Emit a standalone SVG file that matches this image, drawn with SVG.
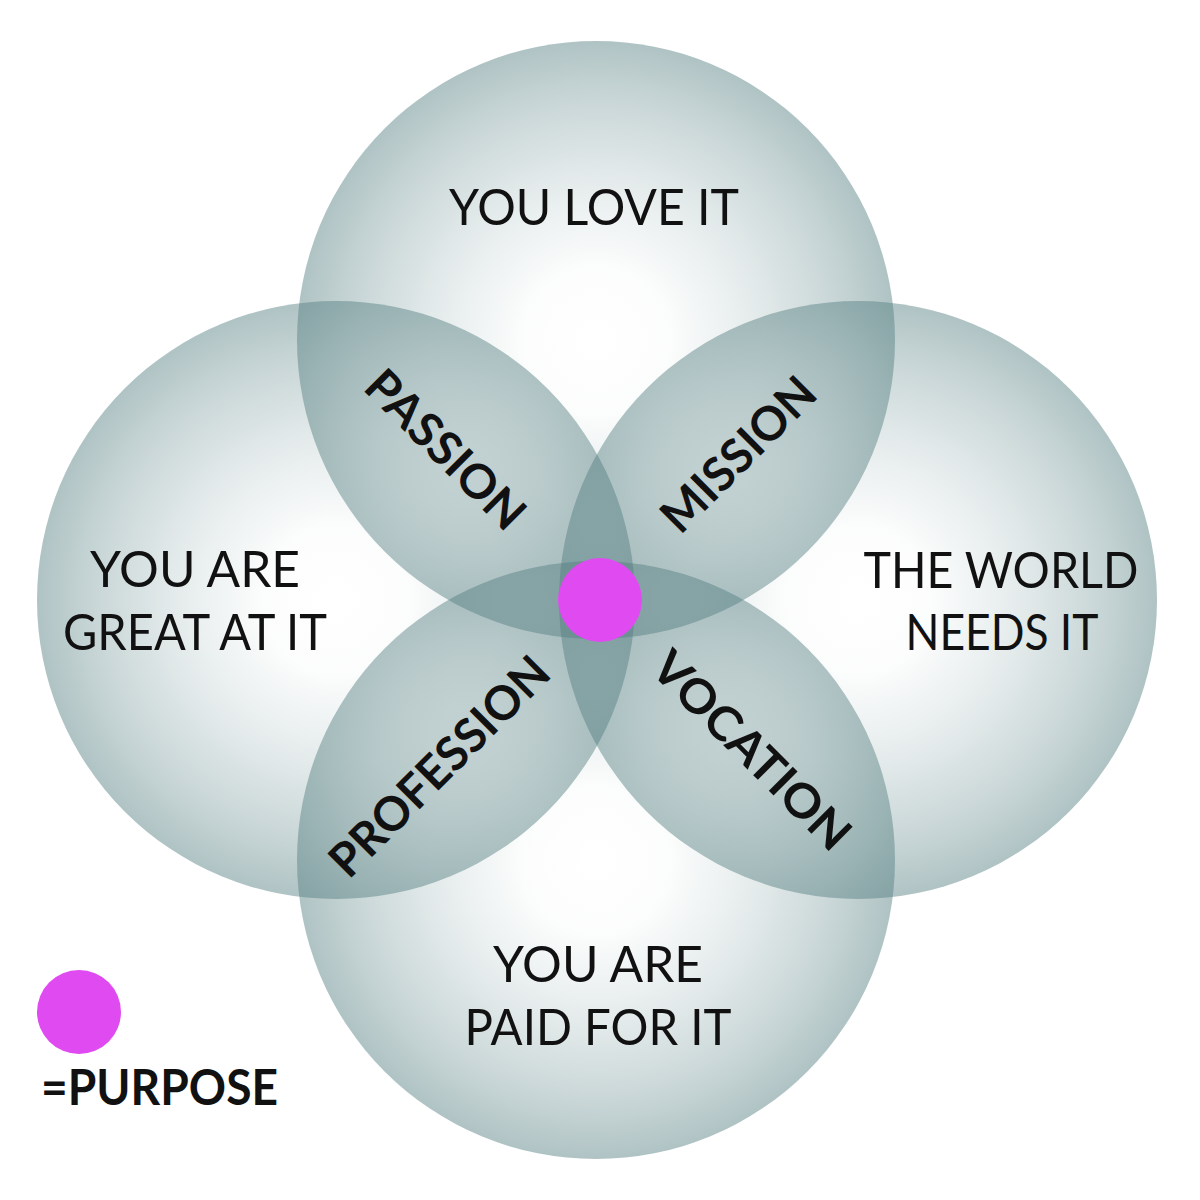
<svg xmlns="http://www.w3.org/2000/svg" width="1200" height="1200" viewBox="0 0 1200 1200">
  <defs>
    <radialGradient id="g" cx="0.5" cy="0.5" r="0.5">
      <stop offset="0" stop-color="#537d7f" stop-opacity="0"/>
      <stop offset="0.25" stop-color="#537d7f" stop-opacity="0.02"/>
      <stop offset="0.55" stop-color="#537d7f" stop-opacity="0.16"/>
      <stop offset="0.8" stop-color="#537d7f" stop-opacity="0.31"/>
      <stop offset="1" stop-color="#537d7f" stop-opacity="0.46"/>
    </radialGradient>
    <style>
      .c { fill: url(#g); }
      .t { font-family: Lato, "Liberation Sans", sans-serif; font-weight: 400; font-size: 50px; fill: #111; text-anchor: middle; }
      .b { font-family: Lato, "Liberation Sans", sans-serif; font-weight: 700; font-size: 47px; fill: #111; text-anchor: middle; }
      .p { fill: #e04bf1; }
    </style>
  </defs>
  <rect width="1200" height="1200" fill="#ffffff"/>
  <g id="circles">
    <g id="top"><circle class="c" cx="596" cy="340" r="299"/></g>
    <g id="left"><circle class="c" cx="336" cy="600" r="299"/></g>
    <g id="right"><circle class="c" cx="858" cy="600" r="299"/></g>
    <g id="bottom"><circle class="c" cx="596" cy="860" r="299"/></g>
  </g>
  <g id="connectors"/>
  <g id="labels">
    <text class="t" x="594" y="225" textLength="290" lengthAdjust="spacingAndGlyphs">YOU LOVE IT</text>
    <text class="t" x="195" y="587" textLength="210" lengthAdjust="spacingAndGlyphs">YOU ARE</text>
    <text class="t" x="195" y="650" textLength="264" lengthAdjust="spacingAndGlyphs">GREAT AT IT</text>
    <text class="t" x="1001" y="588" textLength="275" lengthAdjust="spacingAndGlyphs">THE WORLD</text>
    <text class="t" x="1002" y="650" textLength="193" lengthAdjust="spacingAndGlyphs">NEEDS IT</text>
    <text class="t" x="598" y="982" textLength="210" lengthAdjust="spacingAndGlyphs">YOU ARE</text>
    <text class="t" x="598" y="1045" textLength="267" lengthAdjust="spacingAndGlyphs">PAID FOR IT</text>
  </g>
  <g id="overlaps">
    <g id="passion" transform="translate(446,449) rotate(45)"><text class="b" x="0" y="17" textLength="204" lengthAdjust="spacingAndGlyphs">PASSION</text></g>
    <g id="mission" transform="translate(738,454) rotate(-45)"><text class="b" x="0" y="17" textLength="197" lengthAdjust="spacingAndGlyphs">MISSION</text></g>
    <g id="profession" transform="translate(439,766) rotate(-45)"><text class="b" x="0" y="17" textLength="289" lengthAdjust="spacingAndGlyphs">PROFESSION</text></g>
    <g id="vocation" transform="translate(752,750) rotate(45)"><text class="b" x="0" y="17" textLength="259" lengthAdjust="spacingAndGlyphs">VOCATION</text></g>
  </g>
  <g id="purpose"><circle class="p" cx="600" cy="600" r="42"/></g>
  <g id="legend">
    <circle class="p" cx="79" cy="1012" r="42"/>
    <text x="41" y="1105" textLength="237" lengthAdjust="spacingAndGlyphs" style="font-family: Lato, 'Liberation Sans', sans-serif; font-weight: 700; font-size: 49px; fill: #111;">=PURPOSE</text>
  </g>
</svg>
